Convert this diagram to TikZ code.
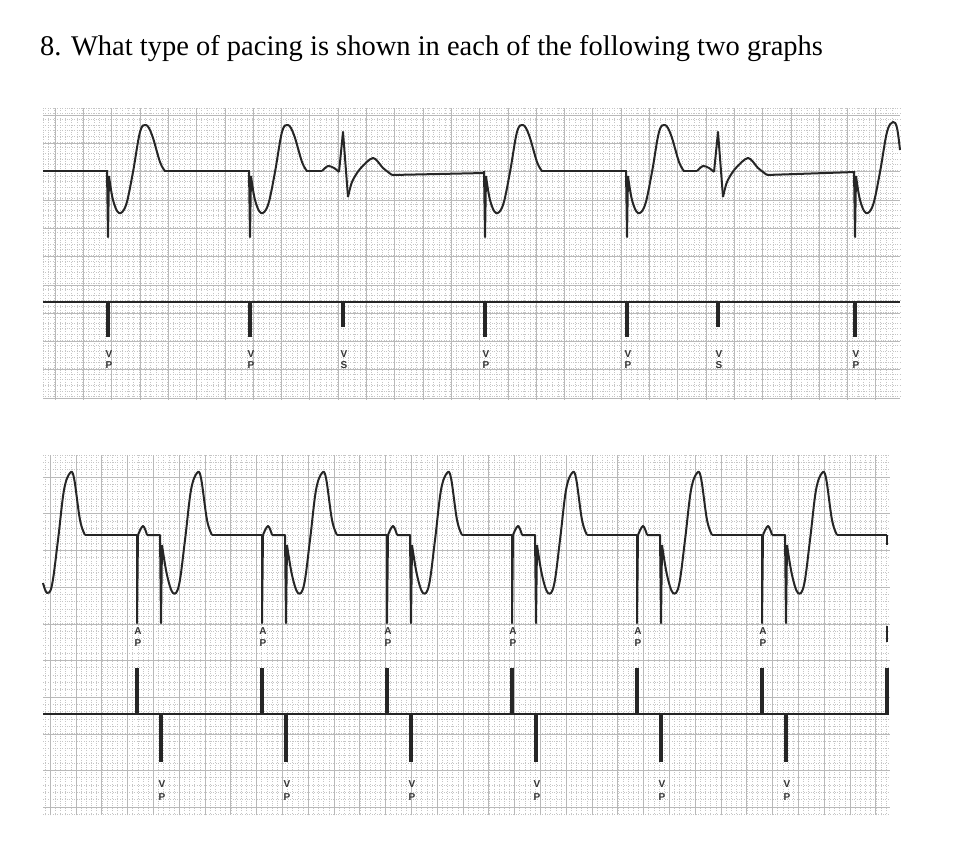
\documentclass[tikz,border=0pt]{standalone}
\usepackage{fontspec}
\setmainfont{Liberation Serif}
\newfontfamily\lab{Liberation Sans}
\begin{document}
\begin{tikzpicture}[x=1pt,y=-1pt,
  maj/.style={gray!55,line width=0.6pt},
  mnr/.style={gray!45,line width=0.5pt,dash pattern=on 0.8pt off 1.6pt},
  ecg/.style={black!85,line width=2pt,line join=round},
  mk/.style={black!85,line width=2pt},
  spk/.style={black!85,line width=3.5pt},
  lbl/.style={font=\lab\bfseries\fontsize{10}{10}\selectfont,inner sep=0pt,black!80}]
\useasboundingbox (0,0) rectangle (973,859);
\node[anchor=base west,inner sep=0pt,font=\fontsize{28.5}{32}\selectfont] (title) at (40,56) {8. What type of pacing is shown in each of the following two graphs};
% ---- top grid
\foreach \i in {0,...,150} {\pgfmathsetmacro\xx{43+\i*5.66}\ifdim\xx pt<900pt \draw[mnr] (\xx,108)--(\xx,400);\fi}
\foreach \i in {0,...,52} {\pgfmathsetmacro\yy{108+\i*5.66}\ifdim\yy pt<401pt \draw[mnr] (43,\yy)--(900,\yy);\fi}
\foreach \i in {0,...,30} {\pgfmathsetmacro\xx{55+\i*28.3}\ifdim\xx pt<900pt \draw[maj] (\xx,108)--(\xx,400);\fi}
\foreach \i in {0,...,10} {\pgfmathsetmacro\yy{115+\i*28.3}\ifdim\yy pt<401pt \draw[maj] (43,\yy)--(900,\yy);\fi}
% ---- bottom grid
\foreach \i in {0,...,170} {\pgfmathsetmacro\xx{45+\i*5.16}\ifdim\xx pt<890pt \draw[mnr] (\xx,455)--(\xx,815);\fi}
\foreach \i in {0,...,60} {\pgfmathsetmacro\yy{455+\i*7.33}\ifdim\yy pt<816pt \draw[mnr] (43,\yy)--(890,\yy);\fi}
\foreach \i in {0,...,33} {\pgfmathsetmacro\xx{50+\i*25.8}\ifdim\xx pt<890pt \draw[maj] (\xx,455)--(\xx,815);\fi}
\foreach \i in {0,...,9} {\pgfmathsetmacro\yy{477+\i*36.7}\draw[maj] (43,\yy)--(890,\yy);}
% ---- top trace
\draw[ecg] (43,171)--(108,171);
\draw[ecg] (164,171)--(250,171);
\draw[ecg] (306,171)--(322,171);
\draw[ecg] (392,175)--(485,173);
\draw[ecg] (541,171)--(627,171);
\draw[ecg] (683,171)--(697,171);
\draw[ecg] (767,175)--(855,172);
\foreach \X in {108,250,485,627,855} {
  \draw[ecg] (\X-1,171)--(\X,237)--(\X+1,176);
  \ifnum\X<800
  \draw[ecg] plot[smooth,tension=0.6] coordinates {(\X+1,176)(\X+5,200)(\X+11,213)(\X+18,205)(\X+25,172)(\X+32,132)(\X+38,125)(\X+44,135)(\X+52,162)(\X+57,171)};
  \else
  \draw[ecg] plot[smooth,tension=0.6] coordinates {(\X+1,176)(\X+5,200)(\X+11,213)(\X+18,205)(\X+25,172)(\X+32,132)(\X+38,122)(\X+42,128)(\X+45,150)};
  \fi}
\foreach \d in {0,375} {
  \draw[ecg] plot[smooth,tension=0.5] coordinates {(322+\d,171)(328+\d,166)(334+\d,168)(339+\d,172)};
  \draw[ecg] (339+\d,172)--(343+\d,132)--(348+\d,197);
  \draw[ecg] plot[smooth,tension=0.5] coordinates {(348+\d,197)(352+\d,182)(360+\d,169)(373+\d,158)(383+\d,168)(392+\d,175)};}
% top marker channel
\draw[mk] (43,302)--(900,302);
\foreach \X/\s in {108/P,250/P,485/P,627/P,855/P,343/S,718/S} {
  \if\s S\draw[spk] (\X,302)--(\X,327);\else\draw[spk] (\X,302)--(\X,337);\fi
  \node[lbl] (v\X) at (\X+1,354) {V};
  \node[lbl] (p\X) at (\X+1,365) {\s};}
% ---- bottom trace
\draw[ecg] plot[smooth,tension=0.6] coordinates {(43,583)(47,593)(52,585)(58,540)(64,490)(70,473)(74,478)(80,520)(85,535)};
\draw[ecg] (85,535)--(137,535);
\foreach \k in {0,...,5} {
  \pgfmathsetmacro\X{137+125*\k}
  \draw[ecg] (\X,535)--(\X,623)--(\X+1,535);
  \draw[ecg] plot[smooth,tension=0.6] coordinates {(\X+1,535)(\X+6,526)(\X+10,535)};
  \draw[ecg] (\X+10,535)--(\X+23,535)--(\X+24,623)--(\X+25,545);
  \draw[ecg] plot[smooth,tension=0.6] coordinates {(\X+25,545)(\X+30,575)(\X+36,593)(\X+42,585)(\X+48,540)(\X+54,490)(\X+60,473)(\X+64,478)(\X+70,520)(\X+75,535)};
  \draw[ecg] (\X+75,535)--(\X+125,535);
  \draw[spk] (\X,714)--(\X,668);
  \draw[spk] (\X+24,714)--(\X+24,762);
  \node[lbl] (a\k) at (\X+1,631) {A};
  \node[lbl] (ap\k) at (\X+1,643) {P};
  \node[lbl] (vb\k) at (\X+25,784) {V};
  \node[lbl] (vp\k) at (\X+25,797) {P};}
\draw[ecg] (887,535)--(887,545);
\draw[mk] (43,714)--(889,714);
\draw[spk] (887,714)--(887,668);
\draw[mk] (887,626)--(887,642);
\end{tikzpicture}
\end{document}
